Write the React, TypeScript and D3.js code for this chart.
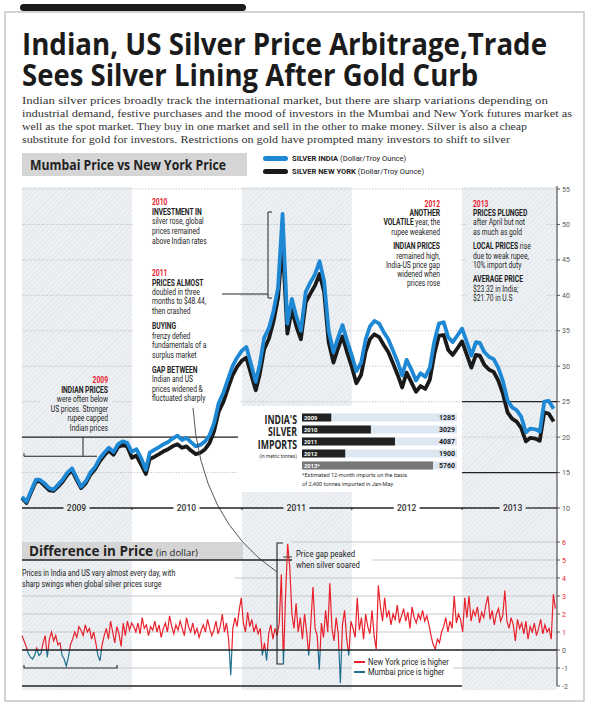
import * as d3 from "d3";

// Semi-monthly readings (1st and 16th of each month), Jan 2009 – Nov 2013, $/troy ounce
const INDIA_PRICE = [
  11.6, 10.9, 12.5, 14.0, 14.0, 13.5, 12.8, 12.6, 13.3, 14.0, 15.0, 15.6,
  14.3, 13.0, 13.8, 15.0, 15.8, 17.0, 17.8, 18.5, 17.9, 19.0, 19.4, 19.2,
  17.9, 18.3, 17.0, 15.4, 17.8, 18.2, 18.6, 19.0, 19.3, 19.8, 20.2, 19.6,
  19.9, 19.3, 18.7, 18.9, 19.4, 20.3, 22.0, 24.8, 26.3, 28.2, 30.0, 31.2,
  32.2, 32.7, 30.2, 27.8, 30.2, 34.0, 35.4, 37.8, 41.0, 51.5, 36.0, 39.5,
  37.0, 35.0, 40.5, 41.8, 43.0, 44.8, 42.0, 35.0, 32.0, 34.0, 35.8, 33.6,
  31.5, 29.3, 30.5, 33.8, 35.6, 36.4, 36.0, 34.8, 33.8, 32.3, 30.6, 28.7,
  30.9, 29.6, 28.0, 29.0, 28.5, 29.8, 33.5, 36.0, 36.2, 34.1, 33.4, 34.3,
  35.3, 33.5, 31.5, 33.4, 33.3, 32.0, 31.3, 31.0, 29.8, 28.0, 25.2, 24.2,
  23.8, 22.9, 20.7, 21.2, 21.1, 20.8, 25.0, 25.1, 24.0,
];

const NEW_YORK_PRICE = [
  11.4, 10.7, 12.3, 13.7, 13.8, 13.2, 12.5, 12.4, 13.0, 13.7, 14.7, 15.3,
  14.0, 12.8, 13.5, 14.7, 15.5, 16.6, 17.4, 18.1, 17.5, 18.6, 18.9, 18.7,
  17.1, 17.4, 16.1, 14.8, 16.9, 17.2, 17.6, 18.0, 18.3, 18.7, 19.0, 18.5,
  18.7, 18.1, 17.6, 17.8, 18.3, 19.2, 20.9, 23.6, 25.0, 26.9, 28.7, 29.9,
  30.8, 31.2, 28.8, 26.6, 28.8, 32.4, 33.9, 36.3, 39.6, 47.5, 34.6, 38.0,
  35.6, 33.8, 39.0, 40.2, 41.4, 43.0, 40.5, 33.4, 30.5, 32.5, 34.2, 32.0,
  29.9, 27.6, 28.8, 32.1, 33.8, 34.5, 34.1, 33.0, 32.0, 30.5, 28.8, 27.0,
  29.1, 27.8, 26.4, 27.2, 26.8, 28.1, 31.7, 34.3, 34.4, 32.3, 31.6, 32.5,
  33.5, 31.7, 29.8, 31.6, 31.5, 30.2, 29.5, 29.2, 28.0, 26.2, 23.5, 22.6,
  22.2, 21.3, 19.4, 19.9, 19.8, 19.5, 23.5, 23.3, 22.2,
];

// Weekly readings of the price difference, dollars
const PRICE_GAP = [
  0.8, 0.5, 0.2, -0.2, -0.4, -0.5, -0.3, 0.1, -0.3, -0.2, 0.4, 0.8, -0.4,
  0.6, 1.0, 0.5, 0.8, 0.3, 0.4, -0.3, -0.5, -0.9, -0.4, 0.3, 0.6,
  1.0, 0.7, 1.3, 1.1, 0.8, 1.4, 1.0, 1.2, 0.6, 1.0, 0.4, -0.3, -0.6,
  0.3, 0.8, 1.2, 0.6, 1.6, 1.0, 0.4, 1.3, 0.9, 0.2, 1.5, 0.8, 1.6, 1.1, 1.5,
  1.3, 1.0, 1.5, 0.9, 1.8, 1.2, 1.4, 0.8, 1.3, 1.1, 1.6, 1.0, 1.4, 0.7, 1.2,
  1.5, 1.0, 1.9, 1.3, 0.9, 1.4, 1.1, 1.6, 1.2, 0.8, 1.8, 1.3, 1.0, 1.5, 0.9,
  1.2, 0.7, 1.1, 1.4, 1.0, 1.7, 1.2, 0.8, 1.1, 1.6, 0.9, 1.3, 2.0, 1.0, 1.5,
  0.6, -1.4, 1.2, 1.8, 1.3, 2.2, 2.9,
  1.5, 1.0, 2.1, 1.3, 1.7, 1.0, 1.4, 0.9, 1.2, -0.3, 0.4, -0.6,
  0.9, 1.4, 0.6, 1.2, 0.8, 1.5, 4.2, -0.8, 3.0, 5.9, 4.6, 2.0,
  1.2, 2.6, 1.0, 1.8, 0.6, 2.0, 1.0, -0.3, 1.5, 3.5, 1.2, 0.8, -1.1,
  1.5, 0.7, 2.2, 1.0, 3.7, 1.2, 0.5, 1.8, 0.9, -1.85, 1.4, 2.2, 0.6, -0.3, 1.6,
  1.2, 0.7, 2.9, 1.1, 1.8, 0.6, 2.0, 1.3, 0.9, 2.2, 0.8, 0.05, 3.6,
  2.4, 1.6, 2.9, 1.8, 2.2, 1.4, 2.0, 1.7, 2.5, 1.5, 1.9, 2.3,
  1.6, 2.1, 1.2, 2.4, 1.8, 1.5, 2.0, 1.7, 2.2, 1.6, 1.9, 1.4,
  0.8, 0.3, 0.05, 0.6, 0.4, 1.0, 1.3, 1.8, 1.0, 1.6, 1.2, 3.0, 1.5, 2.0, 1.7,
  1.0, 2.9, 1.8, 3.0, 1.6, 2.2, 1.9, 2.4, 1.5, 2.1, 1.8, 2.5, 3.0, 1.7,
  2.2, 1.4, 2.0, 2.3, 1.6, 1.9, 3.3,
  1.6, 1.2, 1.8, 1.4, 0.5, 1.7, 1.2, 1.5, 0.9, 1.6, 0.6, 1.3, 1.0, 1.5,
  0.8, 1.2, 1.7, 0.9, 1.4, 1.0, 1.2, 0.6, 3.1, 2.3,
];

const YEARS = [2009, 2010, 2011, 2012, 2013];
const PRICE_TICKS = [55, 50, 45, 40, 35, 30, 25, 20, 15, 10];
const GAP_TICKS = [6, 5, 4, 3, 2, 1, 0, -1, -2];

const IMPORT_YEARS = ["2009", "2010", "2011", "2012", "2013*"];
const IMPORT_TONNES = [1285, 3029, 4087, 1900, 5760];

const BLUE = "#1e88d4";
const RED = "#e8212b";
const TEAL = "#1f6f8e";
const INK = "#222";

const X0 = 22;
const X1 = 557;

const halfMonth = (i: number) => new Date(2009, Math.floor(i / 2), i % 2 ? 16 : 1);
const week = (i: number) => new Date(2009, 0, 1 + 7 * i);

// "!" at start = red bold line, text between * is bold, null = small gap
function Block({ x, y0, lh, lines, anchor = "start", size = 8.4, sx = 0.8 }: {
  x: number; y0: number; lh: number; lines: (string | null)[]; anchor?: string; size?: number; sx?: number;
}) {
  let y = y0;
  const out: JSX.Element[] = [];
  lines.forEach((ln, i) => {
    if (ln === null) { y += lh * 0.6; return; }
    const red = ln.startsWith("!");
    const body = red ? ln.slice(1) : ln;
    const parts = body.split("*");
    out.push(
      <text key={i} x={0} y={y} textAnchor={anchor} fontSize={size} fontFamily="Roboto, sans-serif" fill={red ? RED : INK}>
        {parts.map((p, j) => (
          <tspan key={j} fontWeight={red || j % 2 === 1 ? 700 : 400}>{p}</tspan>
        ))}
      </text>
    );
    y += lh;
  });
  return <g transform={`translate(${x},0) scale(${sx},1)`}>{out}</g>;
}

export default function App() {
  const x = d3.scaleTime().domain([new Date(2009, 0, 1), new Date(2014, 0, 1)]).range([X0, 572]);
  const yP = d3.scaleLinear().domain([10, 55]).range([508, 189]);
  const yG = d3.scaleLinear().domain([-2, 6]).range([686, 542]);
  const xImp = d3.scaleLinear().domain([0, 5760]).range([302, 433]);

  const priceLine = d3.line<number>().x((_, i) => x(halfMonth(i))).y((d) => yP(d));
  const gapLine = d3.line<number>().x((_, i) => x(week(i))).y((d) => yG(d));

  const yearX = (yr: number) => Math.min(x(new Date(yr, 0, 1)), X1);
  const yAxisY = yP(10);

  // year labels sit in gaps of the axis line
  const labelW = 20;
  const labelCx = YEARS.map((yr) => x(new Date(yr, 6, 1)) - (yr === 2013 ? 4 : 0));
  const axisSegs: [number, number][] = [];
  let cur = X0;
  labelCx.forEach((cx) => { axisSegs.push([cur, cx - labelW / 2 - 3]); cur = cx + labelW / 2 + 3; });
  axisSegs.push([cur, X1]);

  const gridStart: Record<number, number> = { 6: 292, 5: 372, 4: 235, 3: X0, 2: X0, 1: X0 };

  return (
    <svg width={590} height={708} viewBox="0 0 590 708" style={{ position: "absolute", left: 0, top: 0, display: "block" }}>
      <defs>
        <pattern id="hatch" width="3.5" height="3.5" patternUnits="userSpaceOnUse" patternTransform="rotate(45)">
          <rect width="3.5" height="3.5" fill="#eef1f4" />
          <line x1="0" y1="0" x2="0" y2="3.5" stroke="#dde2e8" strokeWidth="1.4" />
        </pattern>
        <clipPath id="above"><rect x={0} y={530} width={590} height={yG(0) - 530} /></clipPath>
        <clipPath id="below"><rect x={0} y={yG(0)} width={590} height={60} /></clipPath>
      </defs>

      <rect width={590} height={708} fill="#fff" />
      <rect x={5} y={12} width={579} height={689} fill="#fff" stroke="#c6c6c6" strokeWidth={1.5} />
      <rect x={20} y={4} width={226} height={7} rx={3.5} fill="#1a1a1a" />

      {/* title + intro */}
      <g transform="translate(22,0) scale(0.84,1)" fontFamily="'Open Sans', sans-serif" fontWeight={700} fill="#1b1b1b">
        <text x={0} y={55} fontSize={31} textLength={625} lengthAdjust="spacingAndGlyphs">Indian, US Silver Price Arbitrage,Trade</text>
        <text x={0} y={86} fontSize={31} textLength={543} lengthAdjust="spacingAndGlyphs">Sees Silver Lining After Gold Curb</text>
      </g>
      <g fontFamily="'Liberation Serif', serif" fontSize={11} fill="#333">
        <text x={22} y={104} textLength={526} lengthAdjust="spacingAndGlyphs">Indian silver prices broadly track the international market, but there are sharp variations depending on</text>
        <text x={22} y={117} textLength={550} lengthAdjust="spacingAndGlyphs">industrial demand, festive purchases and the mood of investors in the Mumbai and New York futures market as</text>
        <text x={22} y={130} textLength={505} lengthAdjust="spacingAndGlyphs">well as the spot market. They buy in one market and sell in the other to make money. Silver is also a cheap</text>
        <text x={22} y={143} textLength={488} lengthAdjust="spacingAndGlyphs">substitute for gold for investors. Restrictions on gold have prompted many investors to shift to silver</text>
      </g>

      <rect x={22} y={153} width={225} height={23} fill="#d5d5d5" />
      <text x={30} y={170} fontFamily="'Open Sans', sans-serif" fontWeight={700} fontSize={14} fill={INK} textLength={196} lengthAdjust="spacingAndGlyphs">Mumbai Price vs New York Price</text>

      <rect x={263} y={156} width={25} height={5} rx={2.5} fill={BLUE} />
      <rect x={263} y={169} width={25} height={5} rx={2.5} fill="#1a1a1a" />
      <g fontFamily="Roboto, sans-serif" fontSize={7.6} fill={INK}>
        <text x={292} y={161}><tspan fontWeight={700}>SILVER INDIA</tspan> (Dollar/Troy Ounce)</text>
        <text x={292} y={174}><tspan fontWeight={700}>SILVER NEW YORK</tspan> (Dollar/Troy Ounce)</text>
      </g>

      {/* year bands */}
      {YEARS.map((yr, i) => i % 2 === 0 && (
        <rect key={yr} x={yearX(yr)} y={187} width={yearX(yr + 1) - yearX(yr)} height={503} fill="url(#hatch)" />
      ))}

      {/* price grid */}
      {PRICE_TICKS.filter((v) => v > 10).map((v) => (
        <line key={v} x1={X0} x2={X1} y1={yP(v)} y2={yP(v)} stroke="#b4b4b4" strokeWidth={0.8} strokeDasharray="1.2 1.6" />
      ))}
      {/* masks behind annotation text */}
      <rect x={134} y={190} width={106} height={216} fill="#fff" />
      <rect x={352} y={190} width={108} height={109} fill="#fff" />
      <rect x={466} y={193} width={80} height={108} fill="url(#hatch)" />
      <rect x={40} y={372} width={72} height={62} fill="url(#hatch)" />

      {/* reference lines */}
      <line x1={X0} x2={yearX(2011)} y1={yP(20)} y2={yP(20)} stroke={INK} strokeWidth={1.2} />
      <line x1={yearX(2013)} x2={X1} y1={yP(25)} y2={yP(25)} stroke={INK} strokeWidth={1.2} />
      <line x1={yearX(2013)} x2={X1} y1={yP(15)} y2={yP(15)} stroke={INK} strokeWidth={1.2} />

      {/* imports table */}
      <rect x={238} y={406} width={222} height={86} fill="#fff" />
      <g transform="translate(297,0) scale(0.76,1)" fontFamily="'Open Sans', sans-serif" fontWeight={700} fontSize={11.5} fill={INK} textAnchor="end">
        <text x={0} y={424}>INDIA'S</text>
        <text x={0} y={436.5}>SILVER</text>
        <text x={0} y={449}>IMPORTS</text>
      </g>
      <text x={297} y={458} textAnchor="end" fontFamily="Roboto, sans-serif" fontSize={4.8} fill="#333">(in metric tonnes)</text>
      {IMPORT_TONNES.map((v, i) => {
        const top = 413.5 + i * 12;
        return (
          <g key={i}>
            <rect x={302} y={top} width={155} height={8} fill="#dce7f2" />
            <rect x={xImp(0)} y={top} width={xImp(v) - xImp(0)} height={8} fill={i === 4 ? "#777" : "#222"} />
            <text x={304} y={top + 6.2} fontSize={5.8} fontWeight={700} fill="#fff" fontFamily="Roboto, sans-serif">{IMPORT_YEARS[i]}</text>
            <text x={455} y={top + 6.5} fontSize={7} fontWeight={700} fill={INK} textAnchor="end" fontFamily="Roboto, sans-serif">{v}</text>
          </g>
        );
      })}
      <g fontFamily="Roboto, sans-serif" fontSize={5.6} fill="#333">
        <text x={302} y={477}>*Estimated 12-month imports on the basis</text>
        <text x={302} y={486}>of 2,400 tonnes imported in Jan-May</text>
      </g>

      {/* price lines */}
      <path d={priceLine(NEW_YORK_PRICE) ?? ""} fill="none" stroke="#1a1a1a" strokeWidth={3.8} strokeLinejoin="round" />
      <path d={priceLine(INDIA_PRICE) ?? ""} fill="none" stroke={BLUE} strokeWidth={3.8} strokeLinejoin="round" />

      {/* annotations */}
      <Block x={108} y0={383} lh={9.6} anchor="end" lines={[
        "!2009", "*INDIAN PRICES*", "were often below", "US prices. Stronger", "rupee capped", "Indian prices",
      ]} />
      <Block x={152} y0={205} lh={9.7} lines={[
        "!2010", "*INVESTMENT IN*", "silver rose, global", "prices remained", "above Indian rates",
      ]} />
      <Block x={152} y0={276} lh={9.5} lines={[
        "!2011", "*PRICES ALMOST*", "doubled in three", "months to $48.44,", "then crashed", null,
        "*BUYING*", "frenzy defied", "fundamentals of a", "surplus market", null,
        "*GAP BETWEEN*", "Indian and US", "prices widened &", "fluctuated sharply",
      ]} />
      <Block x={440} y0={207} lh={9.2} anchor="end" lines={[
        "!2012", "*ANOTHER*", "*VOLATILE* year, the", "rupee weakened", null,
        "*INDIAN PRICES*", "remained high,", "India-US price gap", "widened when", "prices rose",
      ]} />
      <Block x={473} y0={207} lh={9.2} lines={[
        "!2013", "*PRICES PLUNGED*", "after April but not", "as much as gold", null,
        "*LOCAL PRICES* rise", "due to weak rupee,", "10% import duty", null,
        "*AVERAGE PRICE*", "$23.32 in India;", "$21.70 in U.S",
      ]} />

      <g fill="none" stroke={INK} strokeWidth={1}>
        <path d={`M24,${yP(17.3) - 3}V${yP(17.3)}H97`} />
        <path d={`M83,${yP(20)}V${yP(17.3)}`} />
        <path d={`M222,294H268M272,212H268V298H272`} />
      </g>
      <path d={`M193,408Q200,520 277,572`} fill="none" stroke="#444" strokeWidth={0.9} />

      {/* year axis */}
      {axisSegs.map(([a, b], i) => (
        <line key={i} x1={a} x2={b} y1={yAxisY} y2={yAxisY} stroke={INK} strokeWidth={1.3} />
      ))}
      {YEARS.slice(1).map((yr) => (
        <line key={yr} x1={yearX(yr)} x2={yearX(yr)} y1={yAxisY} y2={yAxisY + 2} stroke={INK} strokeWidth={1} />
      ))}
      {YEARS.map((yr, i) => (
        <text key={yr} x={labelCx[i]} y={yAxisY + 3} textAnchor="middle" fontSize={8.5} fontFamily="Roboto, sans-serif" fontWeight={500} fill="#333">{yr}</text>
      ))}

      {/* difference chart */}
      <rect x={22} y={542} width={221} height={18} fill="#d5d5d5" />
      <text x={29} y={556} fontFamily="'Open Sans', sans-serif" fill={INK}>
        <tspan fontWeight={700} fontSize={13.5}>Difference in Price</tspan>
        <tspan fontSize={9.5} dx={3}>(in dollar)</tspan>
      </text>
      <line x1={X0} x2={292} y1={560} y2={560} stroke={INK} strokeWidth={1.3} />
      <Block x={22} y0={576} lh={11.5} size={8.6} sx={0.82} lines={[
        "Prices in India and US vary almost every day, with", "sharp swings when global silver prices surge",
      ]} />

      {GAP_TICKS.filter((v) => v > 0).map((v) => (
        <line key={v} x1={gridStart[v]} x2={X1} y1={yG(v)} y2={yG(v)} stroke="#c2c2c2" strokeWidth={0.9} />
      ))}
      <line x1={117} x2={352} y1={yG(-1)} y2={yG(-1)} stroke="#c2c2c2" strokeWidth={0.9} />
      <line x1={453} x2={X1} y1={yG(-1)} y2={yG(-1)} stroke="#c2c2c2" strokeWidth={0.9} />
      <path d={`M24,${yG(-1) - 3}V${yG(-1)}H117V${yG(-1) - 3}`} fill="none" stroke={INK} strokeWidth={1.1} />
      <line x1={X0} x2={yearX(2013)} y1={yG(-2)} y2={yG(-2)} stroke={INK} strokeWidth={1.3} />

      <path d={gapLine(PRICE_GAP) ?? ""} fill="none" stroke={RED} strokeWidth={1.2} clipPath="url(#above)" />
      <path d={gapLine(PRICE_GAP) ?? ""} fill="none" stroke={TEAL} strokeWidth={1.2} clipPath="url(#below)" />
      <line x1={X0} x2={X1} y1={yG(0)} y2={yG(0)} stroke={INK} strokeWidth={1.3} />

      <path d={`M283,543H277V664H283`} fill="none" stroke={INK} strokeWidth={1.1} />
      <line x1={283} x2={292} y1={557} y2={557} stroke={INK} strokeWidth={0.8} />
      <Block x={296} y0={557} lh={11} size={9.2} sx={0.84} lines={["Price gap peaked", "when silver soared"]} />

      <line x1={354} x2={365} y1={662} y2={662} stroke={RED} strokeWidth={2} />
      <line x1={354} x2={365} y1={672} y2={672} stroke={TEAL} strokeWidth={2} />
      <Block x={368} y0={665} lh={10} size={9} sx={0.84} lines={["New York price is higher", "Mumbai price is higher"]} />

      {/* right axis */}
      <line x1={X1} x2={X1} y1={186} y2={686} stroke="#333" strokeWidth={1} />
      {PRICE_TICKS.map((v) => (
        <g key={v}>
          <line x1={X1} x2={X1 + 3} y1={yP(v)} y2={yP(v)} stroke="#333" strokeWidth={0.8} />
          <text x={562} y={yP(v) + 2.5} fontSize={7} fontFamily="Roboto, sans-serif" fill="#555">{v}</text>
        </g>
      ))}
      {GAP_TICKS.map((v) => (
        <g key={`g${v}`}>
          <line x1={X1} x2={X1 + 3} y1={yG(v)} y2={yG(v)} stroke="#333" strokeWidth={0.8} />
          <text x={562} y={yG(v) + 2.5} fontSize={7} fontFamily="Roboto, sans-serif" fill={v > 0 ? RED : "#555"}>{v}</text>
        </g>
      ))}
    </svg>
  );
}
